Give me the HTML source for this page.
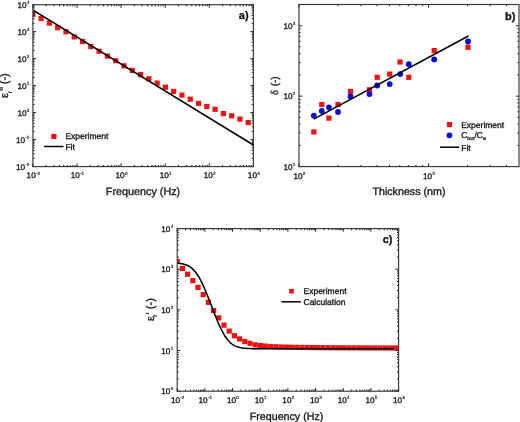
<!DOCTYPE html>
<html><head><meta charset="utf-8"><title>Figure</title>
<style>html,body{margin:0;padding:0;background:#fff;}body{width:520px;height:422px;overflow:hidden;}svg{display:block;}</style>
</head><body>
<svg width="520" height="422" viewBox="0 0 520 422" font-family='"Liberation Sans", Arial, sans-serif' fill="#111" stroke="none"><style>text{stroke:#111;stroke-width:0.3px;text-rendering:geometricPrecision;}.s{stroke-width:0.15px;}</style>
<defs>
<clipPath id="ca"><rect x="32.9" y="4.7" width="220.5" height="161.9"/></clipPath>
<clipPath id="cb"><rect x="299" y="4.5" width="220" height="162.1"/></clipPath>
<clipPath id="cc"><rect x="177.2" y="228.6" width="221.4" height="162.6"/></clipPath>
</defs>
<g clip-path="url(#ca)">
<rect x="30.25" y="11.8" width="5.2" height="5.2" fill="#ee1111"/>
<rect x="38.53" y="15.9" width="5.2" height="5.2" fill="#ee1111"/>
<rect x="46.82" y="20.5" width="5.2" height="5.2" fill="#ee1111"/>
<rect x="55.1" y="25.1" width="5.2" height="5.2" fill="#ee1111"/>
<rect x="63.39" y="29.2" width="5.2" height="5.2" fill="#ee1111"/>
<rect x="71.67" y="34.3" width="5.2" height="5.2" fill="#ee1111"/>
<rect x="79.95" y="38.9" width="5.2" height="5.2" fill="#ee1111"/>
<rect x="88.24" y="44" width="5.2" height="5.2" fill="#ee1111"/>
<rect x="96.52" y="48.6" width="5.2" height="5.2" fill="#ee1111"/>
<rect x="104.81" y="53.5" width="5.2" height="5.2" fill="#ee1111"/>
<rect x="113.09" y="58.1" width="5.2" height="5.2" fill="#ee1111"/>
<rect x="121.37" y="63.2" width="5.2" height="5.2" fill="#ee1111"/>
<rect x="129.66" y="67.8" width="5.2" height="5.2" fill="#ee1111"/>
<rect x="137.94" y="71.9" width="5.2" height="5.2" fill="#ee1111"/>
<rect x="146.23" y="76.2" width="5.2" height="5.2" fill="#ee1111"/>
<rect x="154.51" y="80.5" width="5.2" height="5.2" fill="#ee1111"/>
<rect x="162.79" y="84.6" width="5.2" height="5.2" fill="#ee1111"/>
<rect x="171.08" y="88.8" width="5.2" height="5.2" fill="#ee1111"/>
<rect x="179.36" y="92.5" width="5.2" height="5.2" fill="#ee1111"/>
<rect x="187.65" y="96.6" width="5.2" height="5.2" fill="#ee1111"/>
<rect x="195.93" y="100.8" width="5.2" height="5.2" fill="#ee1111"/>
<rect x="204.21" y="103.9" width="5.2" height="5.2" fill="#ee1111"/>
<rect x="212.5" y="106.7" width="5.2" height="5.2" fill="#ee1111"/>
<rect x="220.78" y="111" width="5.2" height="5.2" fill="#ee1111"/>
<rect x="229.07" y="113.2" width="5.2" height="5.2" fill="#ee1111"/>
<rect x="237.35" y="116.5" width="5.2" height="5.2" fill="#ee1111"/>
<rect x="245.63" y="120" width="5.2" height="5.2" fill="#ee1111"/>
<path d="M33 10.2L253.4 145" stroke="#000" stroke-width="1.5" fill="none"/>
</g>
<rect x="311.2" y="129.3" width="5.2" height="5.2" fill="#ee1111"/>
<rect x="319.2" y="101.9" width="5.2" height="5.2" fill="#ee1111"/>
<rect x="326.3" y="115.5" width="5.2" height="5.2" fill="#ee1111"/>
<rect x="335.4" y="101.9" width="5.2" height="5.2" fill="#ee1111"/>
<rect x="347.9" y="88.8" width="5.2" height="5.2" fill="#ee1111"/>
<rect x="366.9" y="87.2" width="5.2" height="5.2" fill="#ee1111"/>
<rect x="374.6" y="74.7" width="5.2" height="5.2" fill="#ee1111"/>
<rect x="387.1" y="71.5" width="5.2" height="5.2" fill="#ee1111"/>
<rect x="397.4" y="59.4" width="5.2" height="5.2" fill="#ee1111"/>
<rect x="406.2" y="74.7" width="5.2" height="5.2" fill="#ee1111"/>
<rect x="431.6" y="48" width="5.2" height="5.2" fill="#ee1111"/>
<rect x="465.4" y="44.7" width="5.2" height="5.2" fill="#ee1111"/>
<circle cx="313.8" cy="115.6" r="2.9" fill="#0a0ad8"/>
<circle cx="321.8" cy="111" r="2.9" fill="#0a0ad8"/>
<circle cx="328.9" cy="107.3" r="2.9" fill="#0a0ad8"/>
<circle cx="338" cy="112" r="2.9" fill="#0a0ad8"/>
<circle cx="350.5" cy="96.4" r="2.9" fill="#0a0ad8"/>
<circle cx="369.5" cy="94.1" r="2.9" fill="#0a0ad8"/>
<circle cx="377.2" cy="85.5" r="2.9" fill="#0a0ad8"/>
<circle cx="389.7" cy="84.1" r="2.9" fill="#0a0ad8"/>
<circle cx="400.2" cy="74.1" r="2.9" fill="#0a0ad8"/>
<circle cx="408.8" cy="64.2" r="2.9" fill="#0a0ad8"/>
<circle cx="434.2" cy="59.4" r="2.9" fill="#0a0ad8"/>
<circle cx="468" cy="41.5" r="2.9" fill="#0a0ad8"/>
<path d="M313.8 119.1L468.4 36" stroke="#000" stroke-width="1.5" fill="none"/>
<g clip-path="url(#cc)">
<rect x="174.6" y="258.8" width="5.2" height="5.2" fill="#ee1111"/>
<rect x="179.8" y="265.88" width="5.2" height="5.2" fill="#ee1111"/>
<rect x="185" y="271.63" width="5.2" height="5.2" fill="#ee1111"/>
<rect x="190.2" y="278.01" width="5.2" height="5.2" fill="#ee1111"/>
<rect x="195.4" y="284.8" width="5.2" height="5.2" fill="#ee1111"/>
<rect x="200.6" y="292.03" width="5.2" height="5.2" fill="#ee1111"/>
<rect x="205.8" y="299.71" width="5.2" height="5.2" fill="#ee1111"/>
<rect x="211" y="307.95" width="5.2" height="5.2" fill="#ee1111"/>
<rect x="216.2" y="315.3" width="5.2" height="5.2" fill="#ee1111"/>
<rect x="221.4" y="322.53" width="5.2" height="5.2" fill="#ee1111"/>
<rect x="226.6" y="328.5" width="5.2" height="5.2" fill="#ee1111"/>
<rect x="231.8" y="333.15" width="5.2" height="5.2" fill="#ee1111"/>
<rect x="237" y="336.31" width="5.2" height="5.2" fill="#ee1111"/>
<rect x="242.2" y="338.88" width="5.2" height="5.2" fill="#ee1111"/>
<rect x="247.4" y="340.73" width="5.2" height="5.2" fill="#ee1111"/>
<rect x="252.6" y="342.22" width="5.2" height="5.2" fill="#ee1111"/>
<rect x="257.8" y="343.02" width="5.2" height="5.2" fill="#ee1111"/>
<rect x="263" y="343.5" width="5.2" height="5.2" fill="#ee1111"/>
<rect x="268.2" y="343.92" width="5.2" height="5.2" fill="#ee1111"/>
<rect x="273.4" y="344.2" width="5.2" height="5.2" fill="#ee1111"/>
<rect x="278.6" y="344.38" width="5.2" height="5.2" fill="#ee1111"/>
<rect x="283.8" y="344.53" width="5.2" height="5.2" fill="#ee1111"/>
<rect x="289" y="344.65" width="5.2" height="5.2" fill="#ee1111"/>
<rect x="294.2" y="344.75" width="5.2" height="5.2" fill="#ee1111"/>
<rect x="299.4" y="344.83" width="5.2" height="5.2" fill="#ee1111"/>
<rect x="304.6" y="344.9" width="5.2" height="5.2" fill="#ee1111"/>
<rect x="309.8" y="344.97" width="5.2" height="5.2" fill="#ee1111"/>
<rect x="315" y="345.02" width="5.2" height="5.2" fill="#ee1111"/>
<rect x="320.2" y="345.08" width="5.2" height="5.2" fill="#ee1111"/>
<rect x="325.4" y="345.12" width="5.2" height="5.2" fill="#ee1111"/>
<rect x="330.6" y="345.16" width="5.2" height="5.2" fill="#ee1111"/>
<rect x="335.8" y="345.19" width="5.2" height="5.2" fill="#ee1111"/>
<rect x="341" y="345.22" width="5.2" height="5.2" fill="#ee1111"/>
<rect x="346.2" y="345.24" width="5.2" height="5.2" fill="#ee1111"/>
<rect x="351.4" y="345.27" width="5.2" height="5.2" fill="#ee1111"/>
<rect x="356.6" y="345.29" width="5.2" height="5.2" fill="#ee1111"/>
<rect x="361.8" y="345.32" width="5.2" height="5.2" fill="#ee1111"/>
<rect x="367" y="345.34" width="5.2" height="5.2" fill="#ee1111"/>
<rect x="372.2" y="345.36" width="5.2" height="5.2" fill="#ee1111"/>
<rect x="377.4" y="345.37" width="5.2" height="5.2" fill="#ee1111"/>
<rect x="382.6" y="345.38" width="5.2" height="5.2" fill="#ee1111"/>
<rect x="387.8" y="345.39" width="5.2" height="5.2" fill="#ee1111"/>
<rect x="393" y="345.4" width="5.2" height="5.2" fill="#ee1111"/>
<path d="M177.2 263.11 L178.04 263.19 L178.87 263.29 L179.71 263.39 L180.55 263.51 L181.39 263.65 L182.22 263.81 L183.06 264 L183.9 264.21 L184.73 264.45 L185.57 264.72 L186.41 265.03 L187.24 265.38 L188.08 265.77 L188.92 266.22 L189.76 266.72 L190.59 267.29 L191.43 267.92 L192.27 268.62 L193.1 269.39 L193.94 270.25 L194.78 271.19 L195.62 272.21 L196.45 273.33 L197.29 274.53 L198.13 275.83 L198.96 277.21 L199.8 278.69 L200.64 280.25 L201.47 281.89 L202.31 283.61 L203.15 285.4 L203.99 287.26 L204.82 289.19 L205.66 291.16 L206.5 293.19 L207.33 295.25 L208.17 297.35 L209.01 299.48 L209.85 301.63 L210.68 303.79 L211.52 305.96 L212.36 308.13 L213.19 310.29 L214.03 312.44 L214.87 314.57 L215.71 316.67 L216.54 318.73 L217.38 320.75 L218.22 322.73 L219.05 324.64 L219.89 326.5 L220.73 328.28 L221.56 330 L222.4 331.63 L223.24 333.18 L224.08 334.64 L224.91 336.01 L225.75 337.29 L226.59 338.47 L227.42 339.57 L228.26 340.57 L229.1 341.49 L229.94 342.32 L230.77 343.07 L231.61 343.75 L232.45 344.36 L233.28 344.9 L234.12 345.38 L234.96 345.81 L235.79 346.19 L236.63 346.52 L237.47 346.82 L238.31 347.07 L239.14 347.3 L239.98 347.49 L240.82 347.66 L241.65 347.81 L242.49 347.94 L243.33 348.06 L244.17 348.15 L245 348.24 L245.84 348.31 L246.68 348.38 L247.51 348.43 L248.35 348.48 L249.19 348.52 L250.02 348.56 L250.86 348.59 L251.7 348.62 L252.54 348.64 L253.37 348.66 L254.21 348.68 L255.05 348.69 L255.88 348.71 L256.72 348.72 L257.56 348.73 L258.4 348.73 L259.23 348.74 L260.07 348.75 L260.91 348.75 L261.74 348.76 L262.58 348.76 L263.42 348.77 L264.25 348.77 L265.09 348.77 L265.93 348.77 L266.77 348.78 L267.6 348.78 L268.44 348.78 L269.28 348.78 L270.11 348.78 L270.95 348.78 L271.79 348.78 L272.63 348.78 L273.46 348.78 L274.3 348.78 L275.14 348.78 L275.97 348.78 L276.81 348.79 L277.65 348.79 L278.48 348.79 L279.32 348.79 L280.16 348.79 L281 348.79 L281.83 348.79 L282.67 348.79 L283.51 348.79 L284.34 348.79 L285.18 348.79 L286.02 348.79 L286.86 348.79 L287.69 348.79 L288.53 348.79 L289.37 348.79 L290.2 348.79 L291.04 348.79 L291.88 348.79 L292.72 348.79 L293.55 348.79 L294.39 348.79 L295.23 348.79 L296.06 348.79 L296.9 348.79 L297.74 348.79 L298.57 348.79 L299.41 348.79 L300.25 348.79 L301.09 348.79 L301.92 348.79 L302.76 348.79 L303.6 348.79 L304.43 348.79 L305.27 348.79 L306.11 348.79 L306.95 348.79 L307.78 348.79 L308.62 348.79 L309.46 348.79 L310.29 348.79 L311.13 348.79 L311.97 348.79 L312.8 348.79 L313.64 348.79 L314.48 348.79 L315.32 348.79 L316.15 348.79 L316.99 348.79 L317.83 348.79 L318.66 348.79 L319.5 348.79 L320.34 348.79 L321.18 348.79 L322.01 348.79 L322.85 348.79 L323.69 348.79 L324.52 348.79 L325.36 348.79 L326.2 348.79 L327.03 348.79 L327.87 348.79 L328.71 348.79 L329.55 348.79 L330.38 348.79 L331.22 348.79 L332.06 348.79 L332.89 348.79 L333.73 348.79 L334.57 348.79 L335.41 348.79 L336.24 348.79 L337.08 348.79 L337.92 348.79 L338.75 348.79 L339.59 348.79 L340.43 348.79 L341.26 348.79 L342.1 348.79 L342.94 348.79 L343.78 348.79 L344.61 348.79 L345.45 348.79 L346.29 348.79 L347.12 348.79 L347.96 348.79 L348.8 348.79 L349.64 348.79 L350.47 348.79 L351.31 348.79 L352.15 348.79 L352.98 348.79 L353.82 348.79 L354.66 348.79 L355.49 348.79 L356.33 348.79 L357.17 348.79 L358.01 348.79 L358.84 348.79 L359.68 348.79 L360.52 348.79 L361.35 348.79 L362.19 348.79 L363.03 348.79 L363.87 348.79 L364.7 348.79 L365.54 348.79 L366.38 348.79 L367.21 348.79 L368.05 348.79 L368.89 348.79 L369.73 348.79 L370.56 348.79 L371.4 348.79 L372.24 348.79 L373.07 348.79 L373.91 348.79 L374.75 348.79 L375.58 348.79 L376.42 348.79 L377.26 348.79 L378.1 348.79 L378.93 348.79 L379.77 348.79 L380.61 348.79 L381.44 348.79 L382.28 348.79 L383.12 348.79 L383.96 348.79 L384.79 348.79 L385.63 348.79 L386.47 348.79 L387.3 348.79 L388.14 348.79 L388.98 348.79 L389.81 348.79 L390.65 348.79 L391.49 348.79 L392.33 348.79 L393.16 348.79 L394 348.79" stroke="#000" stroke-width="1.5" fill="none" stroke-linejoin="round"/>
</g>
<path d="M32.9 166.6L32.9 163.5M32.9 4.7L32.9 7.8M46.18 166.6L46.18 165M46.18 4.7L46.18 6.3M53.94 166.6L53.94 165M53.94 4.7L53.94 6.3M59.45 166.6L59.45 165M59.45 4.7L59.45 6.3M63.72 166.6L63.72 165M63.72 4.7L63.72 6.3M67.22 166.6L67.22 165M67.22 4.7L67.22 6.3M70.17 166.6L70.17 165M70.17 4.7L70.17 6.3M72.73 166.6L72.73 165M72.73 4.7L72.73 6.3M74.98 166.6L74.98 165M74.98 4.7L74.98 6.3M77 166.6L77 163.5M77 4.7L77 7.8M90.28 166.6L90.28 165M90.28 4.7L90.28 6.3M98.04 166.6L98.04 165M98.04 4.7L98.04 6.3M103.55 166.6L103.55 165M103.55 4.7L103.55 6.3M107.82 166.6L107.82 165M107.82 4.7L107.82 6.3M111.32 166.6L111.32 165M111.32 4.7L111.32 6.3M114.27 166.6L114.27 165M114.27 4.7L114.27 6.3M116.83 166.6L116.83 165M116.83 4.7L116.83 6.3M119.08 166.6L119.08 165M119.08 4.7L119.08 6.3M121.1 166.6L121.1 163.5M121.1 4.7L121.1 7.8M134.38 166.6L134.38 165M134.38 4.7L134.38 6.3M142.14 166.6L142.14 165M142.14 4.7L142.14 6.3M147.65 166.6L147.65 165M147.65 4.7L147.65 6.3M151.92 166.6L151.92 165M151.92 4.7L151.92 6.3M155.42 166.6L155.42 165M155.42 4.7L155.42 6.3M158.37 166.6L158.37 165M158.37 4.7L158.37 6.3M160.93 166.6L160.93 165M160.93 4.7L160.93 6.3M163.18 166.6L163.18 165M163.18 4.7L163.18 6.3M165.2 166.6L165.2 163.5M165.2 4.7L165.2 7.8M178.48 166.6L178.48 165M178.48 4.7L178.48 6.3M186.24 166.6L186.24 165M186.24 4.7L186.24 6.3M191.75 166.6L191.75 165M191.75 4.7L191.75 6.3M196.02 166.6L196.02 165M196.02 4.7L196.02 6.3M199.52 166.6L199.52 165M199.52 4.7L199.52 6.3M202.47 166.6L202.47 165M202.47 4.7L202.47 6.3M205.03 166.6L205.03 165M205.03 4.7L205.03 6.3M207.28 166.6L207.28 165M207.28 4.7L207.28 6.3M209.3 166.6L209.3 163.5M209.3 4.7L209.3 7.8M222.58 166.6L222.58 165M222.58 4.7L222.58 6.3M230.34 166.6L230.34 165M230.34 4.7L230.34 6.3M235.85 166.6L235.85 165M235.85 4.7L235.85 6.3M240.12 166.6L240.12 165M240.12 4.7L240.12 6.3M243.62 166.6L243.62 165M243.62 4.7L243.62 6.3M246.57 166.6L246.57 165M246.57 4.7L246.57 6.3M249.13 166.6L249.13 165M249.13 4.7L249.13 6.3M251.38 166.6L251.38 165M251.38 4.7L251.38 6.3M253.4 166.6L253.4 163.5M253.4 4.7L253.4 7.8M32.9 166.6L36 166.6M253.4 166.6L250.3 166.6M32.9 158.48L34.5 158.48M253.4 158.48L251.8 158.48M32.9 153.73L34.5 153.73M253.4 153.73L251.8 153.73M32.9 150.35L34.5 150.35M253.4 150.35L251.8 150.35M32.9 147.74L34.5 147.74M253.4 147.74L251.8 147.74M32.9 145.6L34.5 145.6M253.4 145.6L251.8 145.6M32.9 143.8L34.5 143.8M253.4 143.8L251.8 143.8M32.9 142.23L34.5 142.23M253.4 142.23L251.8 142.23M32.9 140.85L34.5 140.85M253.4 140.85L251.8 140.85M32.9 139.62L36 139.62M253.4 139.62L250.3 139.62M32.9 131.49L34.5 131.49M253.4 131.49L251.8 131.49M32.9 126.74L34.5 126.74M253.4 126.74L251.8 126.74M32.9 123.37L34.5 123.37M253.4 123.37L251.8 123.37M32.9 120.76L34.5 120.76M253.4 120.76L251.8 120.76M32.9 118.62L34.5 118.62M253.4 118.62L251.8 118.62M32.9 116.81L34.5 116.81M253.4 116.81L251.8 116.81M32.9 115.25L34.5 115.25M253.4 115.25L251.8 115.25M32.9 113.87L34.5 113.87M253.4 113.87L251.8 113.87M32.9 112.63L36 112.63M253.4 112.63L250.3 112.63M32.9 104.51L34.5 104.51M253.4 104.51L251.8 104.51M32.9 99.76L34.5 99.76M253.4 99.76L251.8 99.76M32.9 96.39L34.5 96.39M253.4 96.39L251.8 96.39M32.9 93.77L34.5 93.77M253.4 93.77L251.8 93.77M32.9 91.64L34.5 91.64M253.4 91.64L251.8 91.64M32.9 89.83L34.5 89.83M253.4 89.83L251.8 89.83M32.9 88.26L34.5 88.26M253.4 88.26L251.8 88.26M32.9 86.88L34.5 86.88M253.4 86.88L251.8 86.88M32.9 85.65L36 85.65M253.4 85.65L250.3 85.65M32.9 77.53L34.5 77.53M253.4 77.53L251.8 77.53M32.9 72.78L34.5 72.78M253.4 72.78L251.8 72.78M32.9 69.4L34.5 69.4M253.4 69.4L251.8 69.4M32.9 66.79L34.5 66.79M253.4 66.79L251.8 66.79M32.9 64.65L34.5 64.65M253.4 64.65L251.8 64.65M32.9 62.85L34.5 62.85M253.4 62.85L251.8 62.85M32.9 61.28L34.5 61.28M253.4 61.28L251.8 61.28M32.9 59.9L34.5 59.9M253.4 59.9L251.8 59.9M32.9 58.67L36 58.67M253.4 58.67L250.3 58.67M32.9 50.54L34.5 50.54M253.4 50.54L251.8 50.54M32.9 45.79L34.5 45.79M253.4 45.79L251.8 45.79M32.9 42.42L34.5 42.42M253.4 42.42L251.8 42.42M32.9 39.81L34.5 39.81M253.4 39.81L251.8 39.81M32.9 37.67L34.5 37.67M253.4 37.67L251.8 37.67M32.9 35.86L34.5 35.86M253.4 35.86L251.8 35.86M32.9 34.3L34.5 34.3M253.4 34.3L251.8 34.3M32.9 32.92L34.5 32.92M253.4 32.92L251.8 32.92M32.9 31.68L36 31.68M253.4 31.68L250.3 31.68M32.9 23.56L34.5 23.56M253.4 23.56L251.8 23.56M32.9 18.81L34.5 18.81M253.4 18.81L251.8 18.81M32.9 15.44L34.5 15.44M253.4 15.44L251.8 15.44M32.9 12.82L34.5 12.82M253.4 12.82L251.8 12.82M32.9 10.69L34.5 10.69M253.4 10.69L251.8 10.69M32.9 8.88L34.5 8.88M253.4 8.88L251.8 8.88M32.9 7.31L34.5 7.31M253.4 7.31L251.8 7.31M32.9 5.93L34.5 5.93M253.4 5.93L251.8 5.93M32.9 4.7L36 4.7M253.4 4.7L250.3 4.7" stroke="#1a1a1a" stroke-width="1" fill="none"/>
<rect x="32.9" y="4.7" width="220.5" height="161.9" fill="none" stroke="#383838" stroke-width="1.15"/>
<text x="26.59" y="178.4" font-size="8.2">10</text>
<text class="s" x="35.92" y="174.5" font-size="4.6">-2</text>
<text x="70.69" y="178.4" font-size="8.2">10</text>
<text class="s" x="80.02" y="174.5" font-size="4.6">-1</text>
<text x="115.56" y="178.4" font-size="8.2">10</text>
<text class="s" x="124.88" y="174.5" font-size="4.6">0</text>
<text x="159.66" y="178.4" font-size="8.2">10</text>
<text class="s" x="168.98" y="174.5" font-size="4.6">1</text>
<text x="203.76" y="178.4" font-size="8.2">10</text>
<text class="s" x="213.08" y="174.5" font-size="4.6">2</text>
<text x="247.86" y="178.4" font-size="8.2">10</text>
<text class="s" x="257.18" y="174.5" font-size="4.6">3</text>
<text x="15.89" y="169.7" font-size="8.2">10</text>
<text class="s" x="25.21" y="165.8" font-size="4.6">-2</text>
<text x="15.89" y="142.72" font-size="8.2">10</text>
<text class="s" x="25.21" y="138.82" font-size="4.6">-1</text>
<text x="17.42" y="115.73" font-size="8.2">10</text>
<text class="s" x="26.74" y="111.83" font-size="4.6">0</text>
<text x="17.42" y="88.75" font-size="8.2">10</text>
<text class="s" x="26.74" y="84.85" font-size="4.6">1</text>
<text x="17.42" y="61.77" font-size="8.2">10</text>
<text class="s" x="26.74" y="57.87" font-size="4.6">2</text>
<text x="17.42" y="34.78" font-size="8.2">10</text>
<text class="s" x="26.74" y="30.88" font-size="4.6">3</text>
<text x="17.42" y="7.8" font-size="8.2">10</text>
<text class="s" x="26.74" y="3.9" font-size="4.6">4</text>
<path d="M299 166.6L299 163.5M299 4.5L299 7.6M337.98 166.6L337.98 165M337.98 4.5L337.98 6.1M360.78 166.6L360.78 165M360.78 4.5L360.78 6.1M376.96 166.6L376.96 165M376.96 4.5L376.96 6.1M389.51 166.6L389.51 165M389.51 4.5L389.51 6.1M399.76 166.6L399.76 165M399.76 4.5L399.76 6.1M408.43 166.6L408.43 165M408.43 4.5L408.43 6.1M415.94 166.6L415.94 165M415.94 4.5L415.94 6.1M422.57 166.6L422.57 165M422.57 4.5L422.57 6.1M428.49 166.6L428.49 163.5M428.49 4.5L428.49 7.6M467.47 166.6L467.47 165M467.47 4.5L467.47 6.1M490.27 166.6L490.27 165M490.27 4.5L490.27 6.1M506.45 166.6L506.45 165M506.45 4.5L506.45 6.1M299 166.6L302.1 166.6M519 166.6L515.9 166.6M299 145.39L300.6 145.39M519 145.39L517.4 145.39M299 132.99L300.6 132.99M519 132.99L517.4 132.99M299 124.19L300.6 124.19M519 124.19L517.4 124.19M299 117.36L300.6 117.36M519 117.36L517.4 117.36M299 111.78L300.6 111.78M519 111.78L517.4 111.78M299 107.07L300.6 107.07M519 107.07L517.4 107.07M299 102.98L300.6 102.98M519 102.98L517.4 102.98M299 99.38L300.6 99.38M519 99.38L517.4 99.38M299 96.15L302.1 96.15M519 96.15L515.9 96.15M299 74.95L300.6 74.95M519 74.95L517.4 74.95M299 62.54L300.6 62.54M519 62.54L517.4 62.54M299 53.74L300.6 53.74M519 53.74L517.4 53.74M299 46.91L300.6 46.91M519 46.91L517.4 46.91M299 41.34L300.6 41.34M519 41.34L517.4 41.34M299 36.62L300.6 36.62M519 36.62L517.4 36.62M299 32.53L300.6 32.53M519 32.53L517.4 32.53M299 28.93L300.6 28.93M519 28.93L517.4 28.93M299 25.71L302.1 25.71M519 25.71L515.9 25.71" stroke="#1a1a1a" stroke-width="1" fill="none"/>
<rect x="299" y="4.5" width="220" height="162.1" fill="none" stroke="#383838" stroke-width="1.15"/>
<text x="293.46" y="178.5" font-size="8.2">10</text>
<text class="s" x="302.78" y="174.6" font-size="4.6">2</text>
<text x="422.95" y="178.5" font-size="8.2">10</text>
<text class="s" x="432.27" y="174.6" font-size="4.6">3</text>
<text x="283.52" y="169.7" font-size="8.2">10</text>
<text class="s" x="292.84" y="165.8" font-size="4.6">1</text>
<text x="283.52" y="99.25" font-size="8.2">10</text>
<text class="s" x="292.84" y="95.35" font-size="4.6">2</text>
<text x="283.52" y="28.81" font-size="8.2">10</text>
<text class="s" x="292.84" y="24.91" font-size="4.6">3</text>
<path d="M177.2 391.2L177.2 388.1M177.2 228.6L177.2 231.7M185.53 391.2L185.53 389.6M185.53 228.6L185.53 230.2M190.4 391.2L190.4 389.6M190.4 228.6L190.4 230.2M193.86 391.2L193.86 389.6M193.86 228.6L193.86 230.2M196.54 391.2L196.54 389.6M196.54 228.6L196.54 230.2M198.74 391.2L198.74 389.6M198.74 228.6L198.74 230.2M200.59 391.2L200.59 389.6M200.59 228.6L200.59 230.2M202.19 391.2L202.19 389.6M202.19 228.6L202.19 230.2M203.61 391.2L203.61 389.6M203.61 228.6L203.61 230.2M204.88 391.2L204.88 388.1M204.88 228.6L204.88 231.7M213.21 391.2L213.21 389.6M213.21 228.6L213.21 230.2M218.08 391.2L218.08 389.6M218.08 228.6L218.08 230.2M221.54 391.2L221.54 389.6M221.54 228.6L221.54 230.2M224.22 391.2L224.22 389.6M224.22 228.6L224.22 230.2M226.41 391.2L226.41 389.6M226.41 228.6L226.41 230.2M228.26 391.2L228.26 389.6M228.26 228.6L228.26 230.2M229.87 391.2L229.87 389.6M229.87 228.6L229.87 230.2M231.28 391.2L231.28 389.6M231.28 228.6L231.28 230.2M232.55 391.2L232.55 388.1M232.55 228.6L232.55 231.7M240.88 391.2L240.88 389.6M240.88 228.6L240.88 230.2M245.75 391.2L245.75 389.6M245.75 228.6L245.75 230.2M249.21 391.2L249.21 389.6M249.21 228.6L249.21 230.2M251.89 391.2L251.89 389.6M251.89 228.6L251.89 230.2M254.09 391.2L254.09 389.6M254.09 228.6L254.09 230.2M255.94 391.2L255.94 389.6M255.94 228.6L255.94 230.2M257.54 391.2L257.54 389.6M257.54 228.6L257.54 230.2M258.96 391.2L258.96 389.6M258.96 228.6L258.96 230.2M260.23 391.2L260.23 388.1M260.23 228.6L260.23 231.7M268.56 391.2L268.56 389.6M268.56 228.6L268.56 230.2M273.43 391.2L273.43 389.6M273.43 228.6L273.43 230.2M276.89 391.2L276.89 389.6M276.89 228.6L276.89 230.2M279.57 391.2L279.57 389.6M279.57 228.6L279.57 230.2M281.76 391.2L281.76 389.6M281.76 228.6L281.76 230.2M283.61 391.2L283.61 389.6M283.61 228.6L283.61 230.2M285.22 391.2L285.22 389.6M285.22 228.6L285.22 230.2M286.63 391.2L286.63 389.6M286.63 228.6L286.63 230.2M287.9 391.2L287.9 388.1M287.9 228.6L287.9 231.7M296.23 391.2L296.23 389.6M296.23 228.6L296.23 230.2M301.1 391.2L301.1 389.6M301.1 228.6L301.1 230.2M304.56 391.2L304.56 389.6M304.56 228.6L304.56 230.2M307.24 391.2L307.24 389.6M307.24 228.6L307.24 230.2M309.44 391.2L309.44 389.6M309.44 228.6L309.44 230.2M311.29 391.2L311.29 389.6M311.29 228.6L311.29 230.2M312.89 391.2L312.89 389.6M312.89 228.6L312.89 230.2M314.31 391.2L314.31 389.6M314.31 228.6L314.31 230.2M315.58 391.2L315.58 388.1M315.58 228.6L315.58 231.7M323.91 391.2L323.91 389.6M323.91 228.6L323.91 230.2M328.78 391.2L328.78 389.6M328.78 228.6L328.78 230.2M332.24 391.2L332.24 389.6M332.24 228.6L332.24 230.2M334.92 391.2L334.92 389.6M334.92 228.6L334.92 230.2M337.11 391.2L337.11 389.6M337.11 228.6L337.11 230.2M338.96 391.2L338.96 389.6M338.96 228.6L338.96 230.2M340.57 391.2L340.57 389.6M340.57 228.6L340.57 230.2M341.98 391.2L341.98 389.6M341.98 228.6L341.98 230.2M343.25 391.2L343.25 388.1M343.25 228.6L343.25 231.7M351.58 391.2L351.58 389.6M351.58 228.6L351.58 230.2M356.45 391.2L356.45 389.6M356.45 228.6L356.45 230.2M359.91 391.2L359.91 389.6M359.91 228.6L359.91 230.2M362.59 391.2L362.59 389.6M362.59 228.6L362.59 230.2M364.79 391.2L364.79 389.6M364.79 228.6L364.79 230.2M366.64 391.2L366.64 389.6M366.64 228.6L366.64 230.2M368.24 391.2L368.24 389.6M368.24 228.6L368.24 230.2M369.66 391.2L369.66 389.6M369.66 228.6L369.66 230.2M370.93 391.2L370.93 388.1M370.93 228.6L370.93 231.7M379.26 391.2L379.26 389.6M379.26 228.6L379.26 230.2M384.13 391.2L384.13 389.6M384.13 228.6L384.13 230.2M387.59 391.2L387.59 389.6M387.59 228.6L387.59 230.2M390.27 391.2L390.27 389.6M390.27 228.6L390.27 230.2M392.46 391.2L392.46 389.6M392.46 228.6L392.46 230.2M394.31 391.2L394.31 389.6M394.31 228.6L394.31 230.2M395.92 391.2L395.92 389.6M395.92 228.6L395.92 230.2M397.33 391.2L397.33 389.6M397.33 228.6L397.33 230.2M398.6 391.2L398.6 388.1M398.6 228.6L398.6 231.7M177.2 391.2L180.3 391.2M398.6 391.2L395.5 391.2M177.2 378.96L178.8 378.96M398.6 378.96L397 378.96M177.2 371.81L178.8 371.81M398.6 371.81L397 371.81M177.2 366.73L178.8 366.73M398.6 366.73L397 366.73M177.2 362.79L178.8 362.79M398.6 362.79L397 362.79M177.2 359.57L178.8 359.57M398.6 359.57L397 359.57M177.2 356.85L178.8 356.85M398.6 356.85L397 356.85M177.2 354.49L178.8 354.49M398.6 354.49L397 354.49M177.2 352.41L178.8 352.41M398.6 352.41L397 352.41M177.2 350.55L180.3 350.55M398.6 350.55L395.5 350.55M177.2 338.31L178.8 338.31M398.6 338.31L397 338.31M177.2 331.16L178.8 331.16M398.6 331.16L397 331.16M177.2 326.08L178.8 326.08M398.6 326.08L397 326.08M177.2 322.14L178.8 322.14M398.6 322.14L397 322.14M177.2 318.92L178.8 318.92M398.6 318.92L397 318.92M177.2 316.2L178.8 316.2M398.6 316.2L397 316.2M177.2 313.84L178.8 313.84M398.6 313.84L397 313.84M177.2 311.76L178.8 311.76M398.6 311.76L397 311.76M177.2 309.9L180.3 309.9M398.6 309.9L395.5 309.9M177.2 297.66L178.8 297.66M398.6 297.66L397 297.66M177.2 290.51L178.8 290.51M398.6 290.51L397 290.51M177.2 285.43L178.8 285.43M398.6 285.43L397 285.43M177.2 281.49L178.8 281.49M398.6 281.49L397 281.49M177.2 278.27L178.8 278.27M398.6 278.27L397 278.27M177.2 275.55L178.8 275.55M398.6 275.55L397 275.55M177.2 273.19L178.8 273.19M398.6 273.19L397 273.19M177.2 271.11L178.8 271.11M398.6 271.11L397 271.11M177.2 269.25L180.3 269.25M398.6 269.25L395.5 269.25M177.2 257.01L178.8 257.01M398.6 257.01L397 257.01M177.2 249.86L178.8 249.86M398.6 249.86L397 249.86M177.2 244.78L178.8 244.78M398.6 244.78L397 244.78M177.2 240.84L178.8 240.84M398.6 240.84L397 240.84M177.2 237.62L178.8 237.62M398.6 237.62L397 237.62M177.2 234.9L178.8 234.9M398.6 234.9L397 234.9M177.2 232.54L178.8 232.54M398.6 232.54L397 232.54M177.2 230.46L178.8 230.46M398.6 230.46L397 230.46M177.2 228.6L180.3 228.6M398.6 228.6L395.5 228.6" stroke="#1a1a1a" stroke-width="1" fill="none"/>
<rect x="177.2" y="228.6" width="221.4" height="162.6" fill="none" stroke="#383838" stroke-width="1.15"/>
<text x="170.89" y="403" font-size="8.2">10</text>
<text class="s" x="180.22" y="399.1" font-size="4.6">-2</text>
<text x="198.57" y="403" font-size="8.2">10</text>
<text class="s" x="207.89" y="399.1" font-size="4.6">-1</text>
<text x="227.01" y="403" font-size="8.2">10</text>
<text class="s" x="236.33" y="399.1" font-size="4.6">0</text>
<text x="254.69" y="403" font-size="8.2">10</text>
<text class="s" x="264.01" y="399.1" font-size="4.6">1</text>
<text x="282.36" y="403" font-size="8.2">10</text>
<text class="s" x="291.68" y="399.1" font-size="4.6">2</text>
<text x="310.04" y="403" font-size="8.2">10</text>
<text class="s" x="319.36" y="399.1" font-size="4.6">3</text>
<text x="337.71" y="403" font-size="8.2">10</text>
<text class="s" x="347.03" y="399.1" font-size="4.6">4</text>
<text x="365.39" y="403" font-size="8.2">10</text>
<text class="s" x="374.71" y="399.1" font-size="4.6">5</text>
<text x="393.06" y="403" font-size="8.2">10</text>
<text class="s" x="402.38" y="399.1" font-size="4.6">6</text>
<text x="161.32" y="394.3" font-size="8.2">10</text>
<text class="s" x="170.64" y="390.4" font-size="4.6">0</text>
<text x="161.32" y="353.65" font-size="8.2">10</text>
<text class="s" x="170.64" y="349.75" font-size="4.6">1</text>
<text x="161.32" y="313" font-size="8.2">10</text>
<text class="s" x="170.64" y="309.1" font-size="4.6">2</text>
<text x="161.32" y="272.35" font-size="8.2">10</text>
<text class="s" x="170.64" y="268.45" font-size="4.6">3</text>
<text x="161.32" y="231.7" font-size="8.2">10</text>
<text class="s" x="170.64" y="227.8" font-size="4.6">4</text>
<text x="238.8" y="19.4" font-size="11" font-weight="bold">a)</text>
<text x="505.1" y="19.5" font-size="11" font-weight="bold">b)</text>
<text x="382.7" y="243.2" font-size="11" font-weight="bold">c)</text>
<text x="105.79" y="195.2" font-size="10.8">Frequency (Hz)</text>
<text x="372.43" y="194.8" font-size="10.7">Thickness (nm)</text>
<text x="249.73" y="419.7" font-size="10.7">Frequency (Hz)</text>
<text transform="translate(8.1 98.1) rotate(-90)" font-size="11.1">ε</text>
<text transform="translate(11.7 93.15) rotate(-90)" font-size="6">r</text>
<text transform="translate(8.1 91.1) rotate(-90)" font-size="11.1">''</text>
<text transform="translate(8.1 84.3) rotate(-90)" font-size="11.1">(-)</text>
<text transform="translate(278.4 95) rotate(-90)" font-size="10.6" font-family="Liberation Serif">δ</text>
<text transform="translate(278.4 86.3) rotate(-90)" font-size="10">(-)</text>
<text transform="translate(153.5 321) rotate(-90)" font-size="11.1">ε</text>
<text transform="translate(157.1 316.7) rotate(-90)" font-size="6">r</text>
<text transform="translate(153.5 314.5) rotate(-90)" font-size="11.1">'</text>
<text transform="translate(153.5 309.2) rotate(-90)" font-size="11.1">(-)</text>
<rect x="51.3" y="133.9" width="5.2" height="5.2" fill="#ee1111"/>
<text x="65.4" y="139.1" font-size="8.5">Experiment</text>
<path d="M44 146.5H63.5" stroke="#000" stroke-width="1.5"/>
<text x="65.4" y="149.6" font-size="8.5">Fit</text>
<rect x="446.9" y="122" width="5.2" height="5.2" fill="#ee1111"/>
<text x="461.2" y="127.7" font-size="8.5">Experiment</text>
<circle cx="449.4" cy="135.3" r="2.9" fill="#0a0ad8"/>
<text x="461.2" y="138.4" font-size="8.5">C<tspan font-size="5.3" dy="1.6">ion</tspan><tspan dy="-1.6">/C</tspan><tspan font-size="5.3" dy="1.6">e</tspan></text>
<path d="M440 147.2H459.2" stroke="#000" stroke-width="1.5"/>
<text x="461.2" y="151.3" font-size="8.5">Fit</text>
<rect x="289.2" y="288.9" width="4.6" height="4.6" fill="#ee1111"/>
<text x="303.5" y="294.3" font-size="8.5">Experiment</text>
<path d="M281.5 301.8H300.8" stroke="#000" stroke-width="1.5"/>
<text x="303.5" y="304.6" font-size="8.5">Calculation</text>
</svg>
</body></html>
